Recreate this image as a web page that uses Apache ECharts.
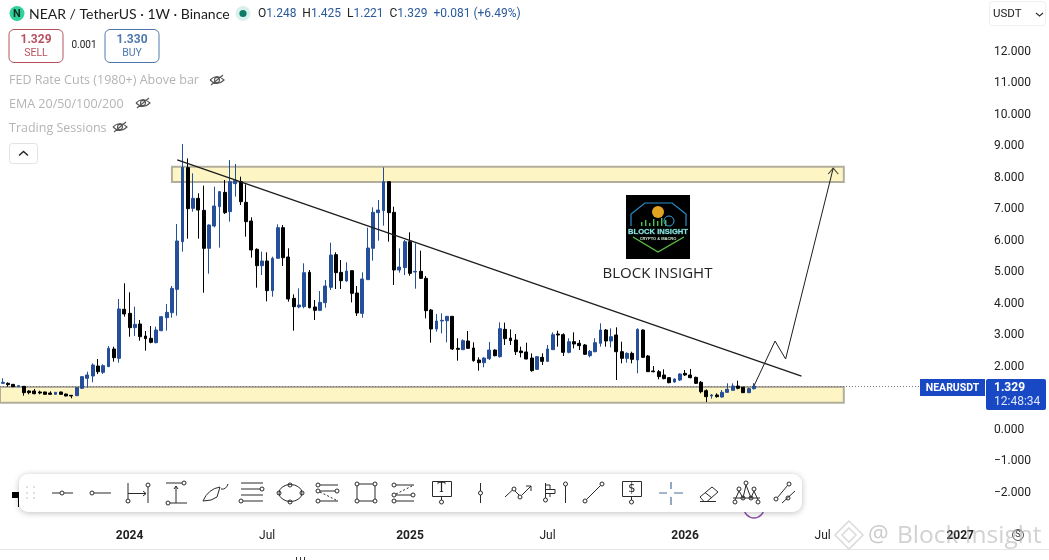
<!DOCTYPE html>
<html><head><meta charset="utf-8">
<style>html,body{margin:0;padding:0;background:#fff;overflow:hidden}#c{width:1049px;height:560px}</style>
<script src="https://cdn.jsdelivr.net/npm/echarts@6/dist/echarts.min.js"></script>
</head><body><div id="c"></div>
<script>
const opens=[1.418,1.418,1.386,1.312,1.323,1.175,1.175,1.143,1.143,1.111,1.069,1.143,1.079,1.037,1.026,1.259,1.577,1.651,1.968,1.767,1.947,2.508,2.212,3.767,3.64,3.185,3.302,2.921,2.847,2.709,3.09,3.503,3.661,4.402,5.915,8.265,6.973,7.291,6.91,5.704,6.413,7.026,7.481,6.868,7.757,7.82,7.164,6.571,5.672,5.153,5.302,4.36,5.386,6.36,5.429,4.116,3.841,3.852,4.942,3.841,3.735,3.979,4.466,5.503,4.942,4.667,4.995,4.286,3.64,4.709,5.704,6.836,6.899,7.82,6.847,5.016,5.09,5.915,4.952,4.974,4.751,3.746,3.143,3.397,3.407,3.545,2.529,2.487,2.762,2.54,2.159,2.074,2.201,2.476,2.265,3.132,2.857,2.794,2.444,2.413,2.222,1.862,2.243,2.116,2.487,2.984,2.963,2.402,2.741,2.688,2.635,2.296,2.423,2.688,3.111,2.762,2.952,2.423,2.212,2.37,2.159,3.111,2.286,1.81,1.788,1.683,1.598,1.46,1.524,1.735,1.683,1.608,1.45,1.185,1.016,1.048,0.984,1.132,1.196,1.333,1.291,1.122,1.248];
const closes=[1.45,1.376,1.312,1.344,1.122,1.122,1.09,1.111,1.069,1.069,1.132,1.069,1.016,1.016,1.28,1.63,1.683,2.0,1.788,1.979,2.529,2.233,3.778,3.619,3.185,3.291,2.899,2.836,2.72,3.111,3.534,3.672,4.434,5.937,8.275,6.963,7.291,6.921,5.704,6.444,7.048,7.503,6.836,7.82,7.852,7.185,6.55,5.651,5.153,5.302,4.36,5.386,6.36,5.407,4.095,3.852,3.905,4.931,3.82,3.735,3.989,4.508,5.492,4.931,4.677,4.984,4.275,3.651,4.73,5.714,6.847,6.921,7.82,6.836,5.016,5.111,5.915,4.91,4.974,4.751,3.725,3.143,3.397,3.418,3.545,2.508,2.497,2.772,2.529,2.138,2.074,2.222,2.476,2.296,3.153,2.836,2.772,2.423,2.392,2.19,1.82,2.265,2.116,2.508,2.963,2.952,2.402,2.741,2.667,2.614,2.339,2.434,2.709,3.111,2.762,2.899,2.423,2.212,2.37,2.18,3.132,2.243,1.788,1.788,1.63,1.566,1.439,1.556,1.714,1.683,1.598,1.418,1.153,0.995,1.048,0.995,1.132,1.228,1.333,1.259,1.122,1.249,1.329];
const lows=[1.41,1.312,1.30,1.30,1.026,1.069,1.069,1.069,1.058,1.058,1.058,1.058,1.005,0.942,1.016,1.248,1.28,1.45,1.714,1.714,1.947,2.106,2.074,3.534,2.899,2.921,2.772,2.455,2.688,2.688,3.07,3.09,3.503,3.566,5.598,6.011,6.868,6.011,4.296,4.899,6.37,5.725,6.794,6.55,7.344,7.079,6.074,5.407,4.455,4.857,4.021,4.169,5.386,5.143,4.011,3.09,3.799,3.799,3.799,3.429,3.714,3.82,4.381,4.413,4.413,4.646,3.989,3.556,3.503,4.709,5.312,5.947,6.423,5.915,4.54,4.931,4.857,4.836,4.423,4.73,3.481,2.709,3.058,3.005,2.72,2.476,2.138,2.476,2.508,2.106,1.82,1.926,2.159,2.275,2.233,2.635,2.635,2.317,2.243,2.18,1.788,1.841,2.0,2.095,2.476,2.582,2.286,2.37,2.529,2.476,2.317,2.243,2.402,2.582,2.582,2.561,1.524,2.053,2.074,2.053,1.735,2.233,1.778,1.767,1.545,1.545,1.418,1.439,1.492,1.651,1.577,1.397,1.101,0.825,0.931,0.963,0.963,1.111,1.185,1.228,1.111,1.111,1.221];
const highs=[1.577,1.45,1.39,1.355,1.333,1.196,1.238,1.185,1.153,1.164,1.143,1.153,1.09,1.048,1.30,1.651,1.788,2.053,2.19,2.021,2.603,2.582,4.095,4.593,4.307,3.852,3.429,3.079,3.238,3.217,3.556,3.937,4.508,6.476,9.016,8.561,8.085,7.45,7.693,6.466,7.661,7.524,7.873,8.508,8.381,7.979,7.735,6.688,5.704,5.598,5.577,5.439,6.466,6.444,5.704,4.243,4.434,5.228,5.016,4.063,4.349,4.698,5.884,5.577,5.333,5.259,5.016,4.508,4.942,6.36,7.005,7.238,8.275,7.82,7.026,5.704,5.968,6.212,5.862,5.63,4.825,3.778,3.619,3.64,3.556,3.556,2.847,2.815,3.079,2.72,2.243,2.243,2.73,2.497,3.354,3.344,3.132,2.984,2.582,2.709,2.37,2.265,2.37,2.635,3.037,3.09,3.005,2.847,3.037,2.794,2.667,2.476,2.847,3.323,3.143,3.164,3.196,2.741,2.402,2.423,3.164,3.132,2.317,1.968,1.841,1.862,1.608,1.577,1.735,1.841,1.873,1.63,1.492,1.228,1.079,1.101,1.206,1.418,1.418,1.503,1.312,1.28,1.425];

const firstWeek=Date.UTC(2023,6,17), weekCount=186;
const categories=Array.from({length:weekCount},(_,i)=>new Date(firstWeek+i*7*864e5).toISOString().slice(0,10));
const xTickLabels={'2024-01-01':'2024','2024-07-01':'Jul','2025-01-06':'2025','2025-07-07':'Jul','2026-01-05':'2026','2026-07-06':'Jul','2027-01-04':'2027'};
const priceTicks=[-2,-1,0,1,2,3,4,5,6,7,8,9,10,11,12];
const lastPrice=1.329;
const topZone=['2024-02-26','2026-08-03',8.29,7.81];
const bottomZone=['2026-08-03',1.30,0.80];
const trendLine=[['2024-03-04',8.51],['2026-06-08',1.65]];
const projection=[['2026-04-06',1.329],['2026-05-04',2.76],['2026-05-18',2.19],['2026-07-20',8.25]];
const candles=opens.map((o,i)=>[o,closes[i],lows[i],highs[i]]);

const UP='#264f99', DOWN='#000000';
const FONT='Roboto, "Open Sans", sans-serif';
const c=(x,y,r=2)=>`M${x-r} ${y}a${r} ${r} 0 1 0 ${2*r} 0a${r} ${r} 0 1 0 ${-2*r} 0`;
const dark='#2a2a2a';
let icoN=0;
const ico=(d,stroke=dark,lw=1)=>{const name='ico'+(icoN++);echarts.graphic.registerShape(name,echarts.graphic.extendPath(d,{}));return {type:name,z:101,style:{fill:'none',stroke,lineWidth:lw}};};
const txt=(x,y,t,o={})=>({type:'text',x,y,z:o.z||100,style:Object.assign({text:t,fill:'#222',font:`12px ${FONT}`,textAlign:'left',textVerticalAlign:'middle'},o.style||{})});
const rr=(x,y,w,h,r,fill,stroke,o={})=>({type:'rect',z:o.z||99,shape:{x,y,width:w,height:h,r},style:Object.assign({fill,stroke,lineWidth:1},o.style||{})});
const eye=(x,y)=>ico(`M${x-7} ${y}Q${x} ${y-7} ${x+7} ${y}Q${x} ${y+7} ${x-7} ${y}${c(x,y,2.5)}M${x-6} ${y+5}L${x+6} ${y-5}`,'#555',1.1);

const gfx=[
 rr(0,549,1049,1,0,'#e6e6e6',null,{z:1}),
 {type:'circle',z:100,shape:{cx:17,cy:13.5,r:7.5},style:{fill:'#2fd39a'}},
 {type:'text',x:17,y:14,z:101,style:{text:'N',fill:'#0b2b24',font:`bold 11px ${FONT}`,textAlign:'center',textVerticalAlign:'middle'}},
 txt(29,14,'NEAR / TetherUS · 1W · Binance',{style:{font:`14px Lato, sans-serif`,fill:'#1c1c1c'}}),
 {type:'circle',z:100,shape:{cx:243,cy:13.5,r:7.5},style:{fill:'#d9f0ec'}},
 {type:'circle',z:101,shape:{cx:243,cy:13.5,r:3.6},style:{fill:'#0d7a66'}},
 {type:'text',x:258,y:14,z:100,style:{text:'O{v|1.248}  H{v|1.425}  L{v|1.221}  C{v|1.329}  {v|+0.081 (+6.49%)}',fill:'#222',font:`12px ${FONT}`,textVerticalAlign:'middle',rich:{v:{fill:'#2a5a9c',font:`12px ${FONT}`}}}},
 rr(9,29.5,54,33,5,'#fff','#b8525f'),
 txt(36,39.5,'1.329',{style:{fill:'#b8525f',textAlign:'center',font:`bold 12px ${FONT}`}}),
 txt(36,53,'SELL',{style:{fill:'#b8525f',textAlign:'center',font:`10.5px ${FONT}`}}),
 txt(84,45.5,'0.001',{style:{textAlign:'center',font:`10px ${FONT}`,fill:'#222'}}),
 rr(105,29.5,54,33,5,'#fff','#4f78ad'),
 txt(132,39.5,'1.330',{style:{fill:'#4f78ad',textAlign:'center',font:`bold 12px ${FONT}`}}),
 txt(132,53,'BUY',{style:{fill:'#4f78ad',textAlign:'center',font:`10.5px ${FONT}`}}),
 txt(9,80.5,'FED Rate Cuts (1980+) Above bar',{style:{fill:'#b4b4b4',font:`12.5px "Open Sans", sans-serif`}}),
 eye(217,80),
 txt(9,104,'EMA 20/50/100/200',{style:{fill:'#b4b4b4',font:`12.5px "Open Sans", sans-serif`}}),
 eye(143,103),
 txt(9,128,'Trading Sessions',{style:{fill:'#b4b4b4',font:`12.5px "Open Sans", sans-serif`}}),
 eye(120,127),
 rr(9.5,143.5,28,20,3,'#fff','#e2e2e2'),
 ico('M19 155.5L23.5 151.5L28 155.5','#222',1.4),
 rr(989.5,1.5,56,24,3,'#fff','#efefef'),
 txt(993,14,'USDT',{style:{font:`11.5px ${FONT}`}}),
 ico('M1036 13L1039.5 16L1043 13','#333',1.2),
 rr(626,195,64,64,0,'#000',null,{z:50}),
 {type:'polyline',z:51,shape:{points:[[631,226],[631,214],[645,203],[672,203],[686,214],[686,226]]},style:{fill:'none',stroke:'#2b8fc7',lineWidth:1.2}},
 {type:'polyline',z:51,shape:{points:[[633,237],[658,252],[684,237]]},style:{fill:'none',stroke:'#5cc243',lineWidth:1.4}},
 {type:'circle',z:52,shape:{cx:658,cy:212,r:6},style:{fill:'#e2a322'}},
 ...[[641,222,4],[645,220,6],[649,223,3],[653,219,7],[657,221,5],[661,218,8],[665,220,6]].map(([x,y,h])=>rr(x,y,1.4,h,0,'#4cc05a',null,{z:51})),
 {type:'circle',z:52,shape:{cx:669,cy:221,r:5},style:{fill:'none',stroke:'#3aa0d8',lineWidth:1}},
 txt(658,231.5,'BLOCK INSIGHT',{z:53,style:{textAlign:'center',font:`bold 7.6px "Liberation Sans", sans-serif`,fill:'#9ad8e8',stroke:'#1f8f60',lineWidth:.5}}),
 txt(658,238.5,'CRYPTO & MACRO',{z:53,style:{textAlign:'center',font:`bold 4px "Liberation Sans", sans-serif`,fill:'#cfe8d0'}}),
 txt(657.5,274,'BLOCK INSIGHT',{style:{textAlign:'center',font:`15px "Open Sans", sans-serif`,fill:'#222'}}),
 rr(920,379,65,17,0,'#1848c4',null),
 txt(952.5,388,'NEARUSDT',{style:{fill:'#fff',textAlign:'center',font:`bold 10.5px ${FONT}`}}),
 rr(986,379,60,31,2,'#1848c4',null),
 txt(994,388,'1.329',{style:{fill:'#fff',font:`bold 12px ${FONT}`}}),
 txt(994,402,'12:48:34',{style:{fill:'#dfe6fb',font:`12px ${FONT}`}}),
 rr(12,492,7,6,0,'#000',null,{z:90}),
 rr(18,498,1,9,0,'#000',null,{z:90}),
 {type:'circle',z:90,shape:{cx:754,cy:508,r:10},style:{fill:'#fff',stroke:'#8e4fa8',lineWidth:1.5}},
 {type:'rect',z:95,shape:{x:19,y:474,width:783,height:38,r:9},style:{fill:'#fff',shadowBlur:6,shadowColor:'rgba(0,0,0,.25)',shadowOffsetY:1}},
 ...[[27,487],[34,487],[27,493],[34,493],[27,498],[34,498]].map(([x,y])=>({type:'circle',z:101,shape:{cx:x,cy:y,r:1},style:{fill:'#d4d4d4'}})),
 ico(`M52 493H60${c(62,493)}M64 493H73`),
 ico(`${c(92,493)}M94 493H111`),
 ico(`M128 483V499${c(128,501)}M128 493.5H146M143 491L146 493.5L143 496M148 487V503${c(148,485)}`),
 ico(`M166 483H182${c(184,483)}${c(168,503)}M170 503H187M176 503V486M174 489L176 486L178 489`),
 ico(`M203 501Q208 489 220 487L217 497Q212 501 203 501ZM221 489Q226 490 228 484`),
 ico(`M241 483H263M241 489H260${c(262,489)}M241 495H263M243 501H263${c(241,501)}`),
 ico(`M279 493A11.5 8.5 0 1 0 302 493A11.5 8.5 0 1 0 279 493${c(290,485)}${c(302,493)}${c(290,502)}${c(279,493)}`),
 ico(`${c(318,485)}M320 485H338${c(318,491)}M320 491H335${c(337,491)}${c(318,501)}M320 501H338`),
 {type:'line',z:101,shape:{x1:320,y1:492,x2:338,y2:501},style:{stroke:dark,lineDash:[2,2],lineWidth:1}},
 ico(`${c(357,484)}${c(375,484)}${c(357,501)}${c(375,501)}M359 484H373M357 486V499M375 486V499M359 501H373`),
 ico(`${c(394,485)}M396 485H414${c(394,495)}M396 495H411${c(413,495)}${c(394,501)}M396 501H414`),
 {type:'line',z:101,shape:{x1:396,y1:494,x2:414,y2:485},style:{stroke:dark,lineDash:[2,2],lineWidth:1}},
 ico(`M432.5 481.5H451.5V496.5H432.5ZM441.5 496.5V500${c(441.5,502)}`),
 txt(441.5,489,'T',{z:101,style:{textAlign:'center',font:`12px "DejaVu Serif", serif`}}),
 ico(`M480.5 483V491${c(480.5,493)}M480.5 495V503`),
 ico(`M505 497L512.5 490${c(514,489)}M515 491L519 495${c(520,497)}M522 495L531 486M526 486H531V491`),
 ico(`M545.5 498V483M545.5 485H550V489.5H555V493.5H550V497M545.5 489.5H550M545.5 493.5H550${c(545.5,500)}${c(565.5,484)}M565.5 486V503`),
 ico(`${c(585,501)}M586.5 499.5L600.5 485.5${c(602,484)}`),
 ico(`M622.5 481.5H641.5V496.5H622.5ZM631.5 496.5V500${c(631.5,502)}`),
 txt(631.5,489,'$',{z:101,style:{textAlign:'center',font:`12px "DejaVu Sans Mono", monospace`}}),
 ico('M659 493H667M674 493H683M671 482V489M671 497V505','#4a6f9c',1.2),
 ico('M700 497L712 487L718 492L707 501.5H704ZM705 492.5L712 498M700 501.5H716'),
 ico(`M733 498H760${c(746,483)}M746 485L743 498M746 485L751 498${c(739,489)}M739 491L735 500M739 491L743 498${c(754,489)}M754 491L751 498M754 491L758 500${c(735,502)}${c(758,502)}${c(743,498)}${c(751,498)}`),
 ico(`${c(776,499)}M777.5 497.5L787.5 485.5${c(789,484)}M782 503L795 491${c(788,498)}`),
 rr(296,557,1,3,0,'#333',null), rr(300,557,1,3,0,'#333',null), rr(304,557,1,3,0,'#333',null),
 txt(1018,535,'S',{z:60,style:{textAlign:'center',font:`9px ${FONT}`,fill:'#333'}}),
 {type:'circle',z:60,shape:{cx:1018,cy:535,r:5.5},style:{fill:'none',stroke:'#555',lineWidth:1}},
 ico('M849 521L863 535L849 549L835 535ZM849 528L856 535L849 542L842 535Z','#dcdcdc',1.6),
 {type:'text',x:868,y:535,z:110,style:{text:'@',font:`23px "Open Sans", sans-serif`,fill:'rgba(160,160,160,.55)',textVerticalAlign:'middle'}},
 {type:'text',x:897,y:536,z:110,style:{text:'Block Insight',font:`24.5px "Open Sans", sans-serif`,fill:'rgba(165,165,165,.5)',textVerticalAlign:'middle'}}
];

const chart=echarts.init(document.getElementById('c'),null,{renderer:'canvas',width:1049,height:560});
const zoneStyle={color:'#fdf5c3',borderColor:'#b3ae9c',borderWidth:2};
chart.setOption({
 animation:false,backgroundColor:'#fff',
 grid:{left:-1,right:65,top:18.5,height:504,containLabel:false},
 xAxis:{type:'category',data:categories,boundaryGap:true,
  axisLine:{show:false},axisTick:{show:false},splitLine:{show:false},
  axisLabel:{margin:7,fontFamily:'Roboto, sans-serif',fontSize:12,color:'#222',hideOverlap:false,
   interval:(i,v)=>v in xTickLabels,
   formatter:v=>{const t=xTickLabels[v]||'';return /^\d/.test(t)?`{y|${t}}`:t;},
   rich:{y:{fontWeight:'bold',fontFamily:'Roboto, sans-serif',fontSize:12,color:'#222'}}}},
 yAxis:{type:'value',position:'right',min:-3,max:13,interval:1,scale:false,
  axisLine:{show:false},axisTick:{show:false},splitLine:{show:false},
  axisLabel:{margin:10,fontFamily:'Roboto, sans-serif',fontSize:12,color:'#222',
   formatter:v=>priceTicks.includes(v)?`{p|${(v<0?'−':'')+Math.abs(v).toFixed(3)}}`:'',
   rich:{p:{padding:[3,0,0,0],fontFamily:'Roboto, sans-serif',fontSize:12,color:'#222'}}}},
 series:[
  {type:'candlestick',name:'NEARUSDT',data:candles,barWidth:3.4,z:5,
   itemStyle:{color:UP,color0:DOWN,borderColor:UP,borderColor0:DOWN,borderWidth:1},
   markLine:{silent:true,symbol:'none',z:2,label:{show:false},
    lineStyle:{color:'#777',type:[1,2],width:1},
    data:[[{x:0,yAxis:lastPrice},{x:920,yAxis:lastPrice}]]}},
  {type:'line',name:'zones',data:[],z:1,
   markArea:{silent:true,z:1,data:[
    [{xAxis:topZone[0],yAxis:topZone[2],itemStyle:zoneStyle},{xAxis:topZone[1],yAxis:topZone[3]}],
    [{yAxis:bottomZone[1],itemStyle:zoneStyle},{xAxis:bottomZone[0],yAxis:bottomZone[2]}]
   ]}},
  {type:'line',name:'trend',data:trendLine,symbol:'none',z:8,lineStyle:{color:'#1d1d1d',width:1.3},connectNulls:true},
  {type:'line',name:'projection',data:projection,symbol:'none',z:8,lineStyle:{color:'#1d1d1d',width:1},connectNulls:true},
  {type:'scatter',name:'head',data:[projection[projection.length-1]],z:8,symbol:'path://M0 6L5 0L10 6',symbolSize:[10,6],symbolOffset:[0,3],
   itemStyle:{color:'none',borderColor:'#1d1d1d',borderWidth:1}}
 ],
 graphic:{elements:gfx}
});
</script></body></html>
